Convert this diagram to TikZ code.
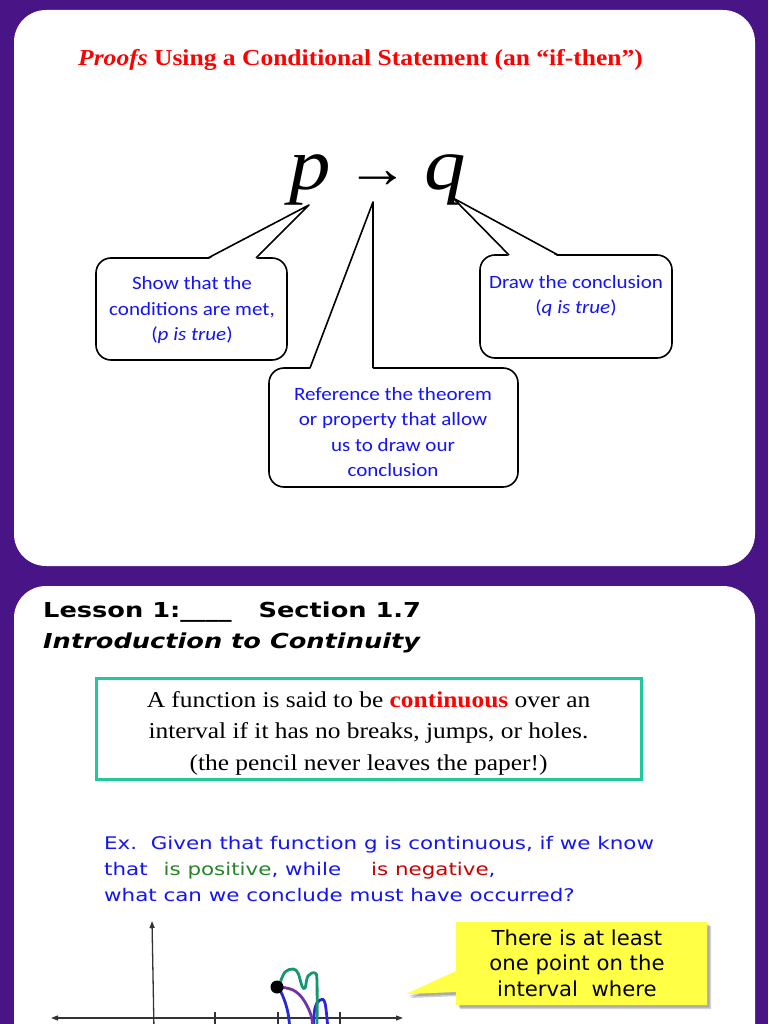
\documentclass[tikz,border=0pt]{standalone}
\usepackage{fontspec}
\setmainfont{Liberation Serif}[FakeStretch=1.12]
\newfontfamily\calfont{Carlito}[FakeStretch=1.12]
\newfontfamily\exfont{DejaVu Sans}[FakeStretch=1.23]
\newfontfamily\lessonfont{DejaVu Sans}[FakeStretch=1.245]
\newfontfamily\yfont{DejaVu Sans}[FakeStretch=1.03]
\usetikzlibrary{arrows.meta}
\definecolor{bgpurple}{RGB}{72,20,134}
\definecolor{txtblue}{RGB}{20,20,245}
\definecolor{tealbox}{RGB}{32,200,155}
\definecolor{posgreen}{RGB}{40,130,40}
\definecolor{negred}{RGB}{200,0,0}
\definecolor{yel}{RGB}{255,255,70}
\definecolor{cgreen}{RGB}{20,150,110}
\definecolor{cpurple}{RGB}{115,50,165}
\definecolor{cblue}{RGB}{40,40,215}
\tikzset{
  callout/.style={draw=black, line width=1.6pt, fill=white, line join=round},
  calltext/.style={font=\calfont\fontsize{18.8}{25.5}\selectfont, text=txtblue, align=center, inner sep=0pt},
  axisline/.style={draw=black!80, line width=1.3pt},
  curve/.style={line width=2.8pt, line cap=round, line join=round},
}
\begin{document}
\begin{tikzpicture}[x=1pt,y=-1pt]
\useasboundingbox (0,0) rectangle (768,1024);
\clip (0,0) rectangle (768,1024);
\fill[bgpurple] (0,0) rectangle (768,1024);
\fill[white,rounded corners=32pt] (14,10) rectangle (755,566);
\fill[white,rounded corners=32pt] (14,586) rectangle (755,1100);

% ---------- top panel ----------
\node[anchor=base west, inner sep=0pt, text=red, font=\fontsize{22.8}{28}\selectfont\bfseries] (title) at (78,65.5)
  {\textit{Proofs} Using a Conditional Statement (an “if-then”)};

\node[anchor=base west, inner sep=0pt, font=\fontsize{74}{80}\selectfont\itshape] (p) at (289,189.5) {p};
\node[anchor=base, inner sep=0pt, font=\fontsize{56}{60}\selectfont] (arr) at (378,188) {→};
\node[anchor=base west, inner sep=0pt, font=\fontsize{74}{80}\selectfont\itshape] (q) at (424,189.5) {q};

\coordinate (tipL) at (309,205);
\coordinate (tipM) at (373,202);
\coordinate (tipR) at (453,198);

% left callout
\draw[callout, rounded corners=15pt] (96,258) rectangle (287,360);
\fill[white] (208,259.5) -- (tipL) -- (256,259.5) -- cycle;
\draw[callout, fill=none] (208,258) -- (tipL) -- (256,258);
% right callout
\draw[callout, rounded corners=15pt] (480,255) rectangle (672,358);
\fill[white] (509,256.5) -- (tipR) -- (558,256.5) -- cycle;
\draw[callout, fill=none] (509,255) -- (tipR) -- (558,255);
% middle callout
\draw[callout, rounded corners=15pt] (269,368) rectangle (518,487);
\fill[white] (310,369.5) -- (tipM) -- (373,369.5) -- cycle;
\draw[callout, fill=none] (310,368) -- (tipM) -- (373,368);

\node[calltext] (tl) at (192,310) {Show that the\\conditions are met,\\(\textit{p is true})};
\node[calltext] (tr) at (576,296) {Draw the conclusion\\(\textit{q is true})};
\node[calltext] (tm) at (393,432) {Reference the theorem\\or property that allow\\us to draw our\\conclusion};

% ---------- bottom panel ----------
\node[anchor=base west, inner sep=0pt, font=\lessonfont\bfseries\fontsize{20.6}{26}\selectfont] (lesson) at (43,617)
  {Lesson 1:\_\_\_\_\hspace{27pt}Section 1.7};
\node[anchor=base west, inner sep=0pt, font=\lessonfont\bfseries\itshape\fontsize{20.6}{26}\selectfont] (intro) at (43,648)
  {Introduction to Continuity};

\draw[tealbox, line width=3pt] (96,678) rectangle (641,779);
\node[anchor=base, inner sep=0pt, align=center, font=\fontsize{22.7}{31.5}\selectfont] (deftext) at (368.5,770)
  {A function is said to be \textcolor{red}{\bfseries continuous} over an\\
   interval if it has no breaks, jumps, or holes.\hspace*{15pt}\\
   (the pencil never leaves the paper!)};

\node[anchor=base west, inner sep=0pt, align=left, text=txtblue, font=\exfont\fontsize{17.4}{26}\selectfont] (ex) at (104,901)
  {Ex.\ \ Given that function g is continuous, if we know\\
   that\hspace{16pt}\textcolor{posgreen}{is positive}, while\hspace{30pt}\textcolor{negred}{is negative},\\
   what can we conclude must have occurred?};

% yellow callout with shadow
\fill[black, opacity=0.18] (460,926) -- (711,926) -- (711,1009) -- (460,1009) -- (460,996) -- (410,998) -- (460,975) -- cycle;
\fill[black, opacity=0.18] (458.5,924.5) -- (709.5,924.5) -- (709.5,1007.5) -- (458.5,1007.5) -- (458.5,994.5) -- (408.5,996.5) -- (458.5,973.5) -- cycle;
\fill[yel] (456,922) -- (707,922) -- (707,1005) -- (456,1005) -- (456,992) -- (406,994) -- (456,971) -- cycle;
\node[anchor=base, inner sep=0pt, align=center, font=\yfont\fontsize{20.6}{25.3}\selectfont] (ytext) at (577,996)
  {There is at least\\one point on the\\interval\ \ where};

% graph
\draw[axisline, {Triangle[length=7pt,width=5pt]}-{Triangle[length=7pt,width=5pt]}] (51,1018) -- (403,1018);
\draw[axisline, -{Triangle[length=7pt,width=5pt]}] (154,1030) -- (152,921);
\foreach \tx in {215,278,340} \draw[axisline] (\tx,1012) -- (\tx,1030);

\draw[curve, cblue] plot[smooth, tension=0.6] coordinates {(279,988) (284,999) (288,1013) (290,1030)};
\draw[curve, cblue] plot[smooth, tension=0.6] coordinates {(313,1030) (315,1008) (320,1000) (325,1003) (328,1030)};
\draw[curve, cpurple] plot[smooth, tension=0.6] coordinates {(280,987) (293,990) (303,999) (311,1015) (313,1030)};
\draw[curve, cgreen] plot[smooth, tension=0.6] coordinates {(280,983) (285,972) (293,969) (298,973) (302,986) (305,988) (308,976) (315,973) (317,982) (317,1030)};
\fill[black] (277,987) circle (6.5pt);
\end{tikzpicture}
\end{document}
